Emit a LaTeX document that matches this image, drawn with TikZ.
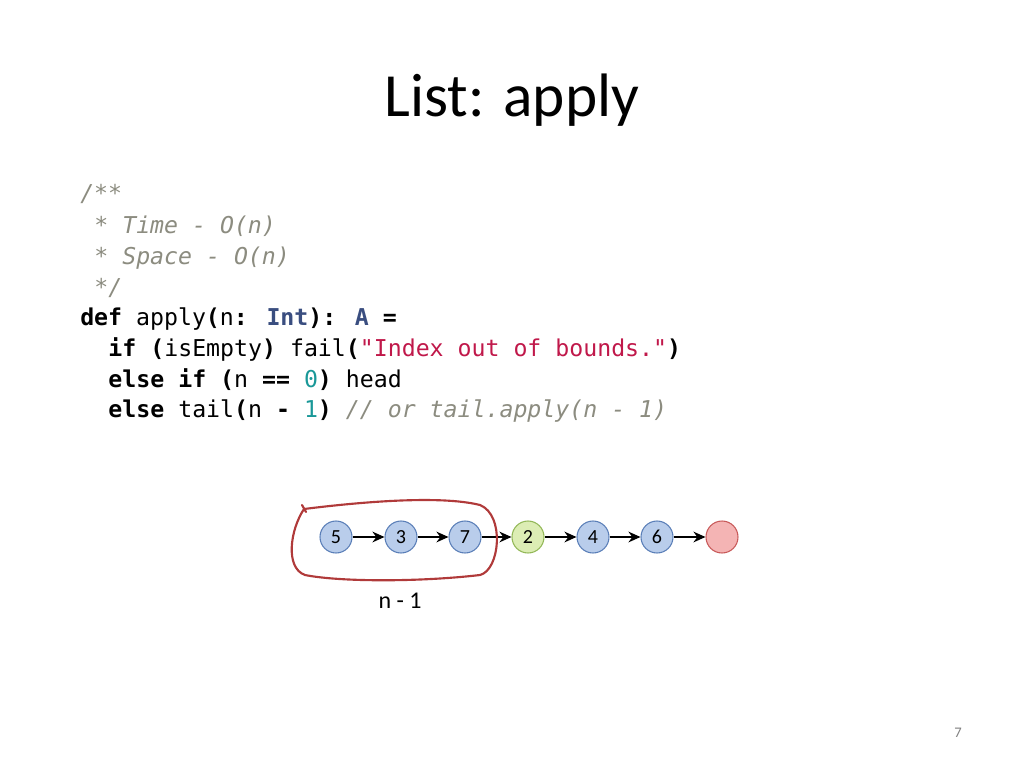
\documentclass[tikz,border=0pt]{standalone}
\usepackage{fontspec}
\setmainfont{Carlito}
\newfontfamily\codefont{DejaVu Sans Mono}
\usetikzlibrary{arrows.meta}
\definecolor{cmt}{HTML}{8C8C80}
\definecolor{str}{HTML}{C0184A}
\definecolor{typ}{HTML}{3A4E80}
\definecolor{num}{HTML}{1A9898}
\definecolor{bfill}{HTML}{B9CDEB}
\definecolor{bdraw}{HTML}{5B7FB8}
\definecolor{gfill}{HTML}{DCEDB4}
\definecolor{gdraw}{HTML}{93B858}
\definecolor{rfill}{HTML}{F4B4B4}
\definecolor{rdraw}{HTML}{C85A5A}
\definecolor{loopc}{HTML}{B03A3A}
\begin{document}
\begin{tikzpicture}[x=0.75pt,y=-0.75pt,
  code/.style={anchor=base west,inner sep=0,font=\codefont\fontsize{17.4pt}{20pt}\selectfont},
  lnode/.style={circle,minimum size=24pt,inner sep=0,line width=0.8pt,font=\fontsize{15pt}{17pt}\selectfont},
  bnode/.style={lnode,fill=bfill,draw=bdraw},
  gnode/.style={lnode,fill=gfill,draw=gdraw},
  rnode/.style={lnode,fill=rfill,draw=rdraw},
  link/.style={-{Stealth[length=9pt,width=8pt]},line width=1.6pt,black}]
\path[use as bounding box] (0,0) rectangle (1024,768);
\node[font=\fontsize{46pt}{50pt}\selectfont] (title) at (512,100) {List: apply};
\def\cw{14.1}
\node[code,text=cmt] (l1) at (80,201) {\itshape /**};
\node[code,text=cmt] (l2) at (80+\cw,233) {\itshape * Time - O(n)};
\node[code,text=cmt] (l3) at (80+\cw,264) {\itshape * Space - O(n)};
\node[code,text=cmt] (l4) at (80+\cw,295) {\itshape */};
\node[code] (l5) at (80,325) {\bfseries def\mdseries{} apply\bfseries(\mdseries n\bfseries: \textcolor{typ}{Int}): \textcolor{typ}{A} =};
\node[code] (l6) at (80+2*\cw,356) {\bfseries if (\mdseries isEmpty\bfseries)\mdseries{} fail\bfseries(\mdseries\textcolor{str}{"Index out of bounds."}\bfseries)};
\node[code] (l7) at (80+2*\cw,387) {\bfseries else if (\mdseries n \bfseries==\mdseries{} \textcolor{num}{0}\bfseries)\mdseries{} head};
\node[code] (l8) at (80+2*\cw,417) {\bfseries else\mdseries{} tail\bfseries(\mdseries n \bfseries-\mdseries{} \textcolor{num}{1}\bfseries)\mdseries{} \textcolor{cmt}{\itshape // or tail.apply(n - 1)}};
\node[bnode] (n1) at (336,537) {5};
\node[bnode] (n2) at (401,537) {3};
\node[bnode] (n3) at (465,537) {7};
\node[gnode] (n4) at (528,537) {2};
\node[bnode] (n5) at (593,537) {4};
\node[bnode] (n6) at (657,537) {6};
\node[rnode] (n7) at (722,537) {};
\foreach \a/\b in {n1/n2,n2/n3,n3/n4,n4/n5,n5/n6,n6/n7}
  \draw[link] (\a) -- (\b);
\draw[loopc,line width=1.6pt,line cap=round]
  (302,505) -- (306,512)
  (304,509) .. controls (360,502) and (440,495) .. (480,505)
  .. controls (505,515) and (500,570) .. (480,575)
  .. controls (420,582) and (340,582) .. (305,575)
  .. controls (285,568) and (290,530) .. (304,509);
\node[font=\fontsize{18pt}{20pt}\selectfont] (lbl) at (400,601) {n - 1};
\node[text=gray,font=\fontsize{11pt}{13pt}\selectfont] (pg) at (958,733) {7};
\end{tikzpicture}
\end{document}
